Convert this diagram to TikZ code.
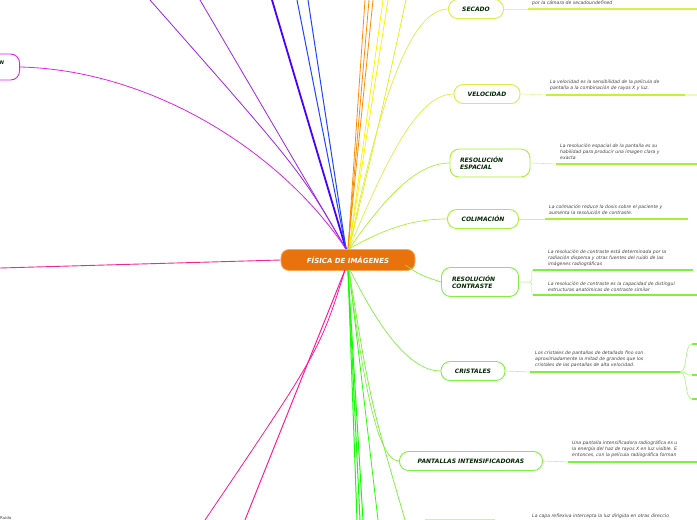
\documentclass[tikz,border=0pt]{standalone}
\usepackage{fontspec}
\setmainfont{DejaVu Sans}
\begin{document}
\begin{tikzpicture}[x=1pt,y=-1pt,
  br/.style={draw=#1,line width=0.9pt,rounded corners=9pt,fill=white,font=\fontsize{6}{7}\selectfont\bfseries\itshape,text=black!60!green!40!black,align=left,inner sep=0pt},
  note/.style={font=\fontsize{4.6}{6}\selectfont\itshape,text=black!75,align=left,anchor=south west,inner sep=0pt},
  ]
\useasboundingbox (0,0) rectangle (697,520);
\definecolor{yg}{HTML}{D8F040}
\definecolor{lg}{HTML}{A8F030}
\definecolor{gg}{HTML}{80F040}
\definecolor{mag}{HTML}{E020F0}
\definecolor{vio}{HTML}{A020F0}
\coordinate (h) at (346,249);
% top lines
\draw[vio,line width=0.8pt] (h) .. controls (300,170) .. (150,0);
\draw[vio,line width=0.8pt] (h) -- (200,0);
\draw[color={rgb,255:red,70;green,0;blue,255},line width=1.8pt] (h) -- (272,0);
\draw[color={rgb,255:red,30;green,70;blue,255},line width=1pt] (h) -- (297,0);
\draw[color={rgb,255:red,30;green,70;blue,255},line width=1pt] (h) -- (308,0);
\foreach \x in {365,369,373}{\draw[orange!90!yellow,line width=0.8pt] (348,249) -- (\x,0);}
\foreach \x in {383,388}{\draw[yellow,line width=0.8pt] (349,249) -- (\x,0);}
\draw[yellow!90!green,line width=0.7pt] (349,249) .. controls (380,120) .. (406,0);
% left
\coordinate (lft) at (0,268);
\node[br=mag,minimum width=40pt,minimum height=26pt,anchor=east] (nL) at (20,67) {};
\draw[mag,line width=0.8pt] (nL.east) .. controls (150,70) and (280,150) .. (h);
\node[font=\fontsize{5}{6}\selectfont\bfseries\itshape,text=black!60!green!40!black] at (2,63) {N};
\node[fill={rgb,255:red,232;green,114;blue,12},rounded corners=8pt,minimum width=134pt,minimum height=21pt,text=white,font=\fontsize{7}{8}\selectfont\bfseries\itshape,draw=orange!70!white,line width=0.8pt] (c) at (348,260) {FÍSICA DE IMÁGENES};
\draw[magenta!80!pink,line width=0.9pt] (lft) -- (c.west);
% bottom
\draw[color={rgb,255:red,255;green,20;blue,150},line width=0.8pt] (345,270) .. controls (320,350) .. (205,520);
\draw[color={rgb,255:red,255;green,20;blue,150},line width=1pt] (345,270) -- (245,520);
\foreach \x in {357,360,363}{\draw[green!90!lime,line width=1pt] (348,270) -- (\x,520);}
\draw[green!80!lime,line width=0.8pt] (349,270) -- (378,520);
\draw[gg,line width=0.8pt] (349,270) .. controls (370,400) .. (405,520);
% right branches
\node[br=yg,minimum width=55pt,minimum height=19pt,align=center] (s) at (476,9) {SECADO};
\draw[yg,line width=0.7pt] (349,249) .. controls (380,100) and (410,9) .. (s.west);
\node[note] at (532,6) {por la cámara de secadoundefined};
\draw[yg!60!white,line width=0.6pt] (s.east) -- (528,9);
\draw[yg,line width=1.2pt] (528,9) -- (697,9);

\node[br=yg,minimum width=66pt,minimum height=19pt,align=center] (v) at (487,94) {VELOCIDAD};
\draw[yg,line width=0.7pt] (349,249) .. controls (390,150) and (420,94) .. (v.west);
\node[note] at (550,91) {La velocidad es la sensibilidad de la película de\\pantalla a la combinación de rayos X y luz.};
\draw[yg!60!white,line width=0.6pt] (v.east) -- (546,95);
\draw[yg!90!green,line width=1.2pt] (546,95) -- (685,95);
\draw[yg!40!white,line width=1.2pt] (685,95) -- (697,95);

\node[br=lg,minimum width=80pt,minimum height=28pt,text width=60pt] (re) at (490,163) {RESOLUCIÓN\\ESPACIAL};
\draw[lg,line width=0.7pt] (349,249) .. controls (390,190) and (420,163) .. (re.west);
\node[note] at (560,160) {La resolución espacial de la pantalla es su\\habilidad para producir una imagen clara y\\exacta};
\draw[lg!60!white,line width=0.6pt] (re.east) -- (556,164);
\draw[lg,line width=1.2pt] (556,164) -- (697,164);

\node[br=lg,minimum width=71pt,minimum height=19pt,align=center] (co) at (483,219) {COLIMACIÓN};
\draw[lg,line width=0.7pt] (349,249) .. controls (390,225) and (420,219) .. (co.west);
\node[note] at (549,215) {La colimación reduce la dosis sobre el paciente y\\aumenta la resolución de contraste.};
\draw[lg!60!white,line width=0.6pt] (co.east) -- (545,219);
\draw[lg,line width=1.2pt] (545,219) -- (688,219);

\node[br=gg,minimum width=77pt,minimum height=29pt,text width=56pt] (rc) at (480,282) {RESOLUCIÓN\\CONTRASTE};
\draw[gg,line width=0.7pt] (c.east) ++(-10,5) .. controls (420,275) .. (rc.west);
\node[note] at (548,267) {La resolución de contraste está determinada por la\\radiación dispersa y otras fuentes del ruido de las\\imágenes radiográficas};
\node[note] at (548,292) {La resolución de contraste es la capacidad de distingui\\estructuras anatómicas de contraste similar};
\coordinate (rc1) at (533,270); \coordinate (rc2) at (533,295);
\draw[gg!60!white,line width=0.6pt] (rc.east) -- (530,282) (530,282) .. controls (534,282) and (530,270) .. (rc1) (530,282) .. controls (534,282) and (530,295) .. (rc2);
\draw[gg,line width=1.2pt] (rc1) -- (693,270);
\draw[gg,line width=1.2pt] (rc2) -- (697,295);

\node[br=gg,minimum width=64pt,minimum height=19pt,align=center] (cr) at (473,371) {CRISTALES};
\draw[gg,line width=0.7pt] (350,270) .. controls (380,330) and (410,371) .. (cr.west);
\node[note] at (535,368) {Los cristales de pantallas de detallado fino son\\aproximadamente la mitad de grandes que los\\cristales de las pantallas de alta velocidad.};
\draw[gg!60!white,line width=0.6pt] (cr.east) -- (530,372);
\draw[gg,line width=1.2pt] (530,372) -- (680,372);
\foreach \yy in {344,375,399}{
  \draw[gg!70!white,line width=0.6pt] (680,372) .. controls (688,372) and (684,\yy) .. (692,\yy);
  \draw[gg,line width=1.2pt] (692,\yy) -- (697,\yy);}

\node[br=gg,minimum width=143pt,minimum height=19pt,align=center] (pi) at (471,461) {PANTALLAS INTENSIFICADORAS};
\draw[gg,line width=0.7pt] (349,270) .. controls (365,400) and (380,461) .. (pi.west);
\node[note] at (572,458) {Una pantalla intensificadora radiográfica es u\\la energía del haz de rayos X en luz visible. E\\entonces, con la película radiográfica forman};
\draw[gg!60!white,line width=0.6pt] (pi.east) -- (568,462);
\draw[gg,line width=1.2pt] (568,462) -- (697,462);

\node[note] at (532,519) {La capa reflexiva intercepta la luz dirigida en otras direccio};
\draw[gg!50!white,line width=0.8pt] (425,519.5) -- (495,519.5);
\node[note,font=\fontsize{4}{5}\selectfont] at (0,519.5) {Ruido};
\end{tikzpicture}
\end{document}
